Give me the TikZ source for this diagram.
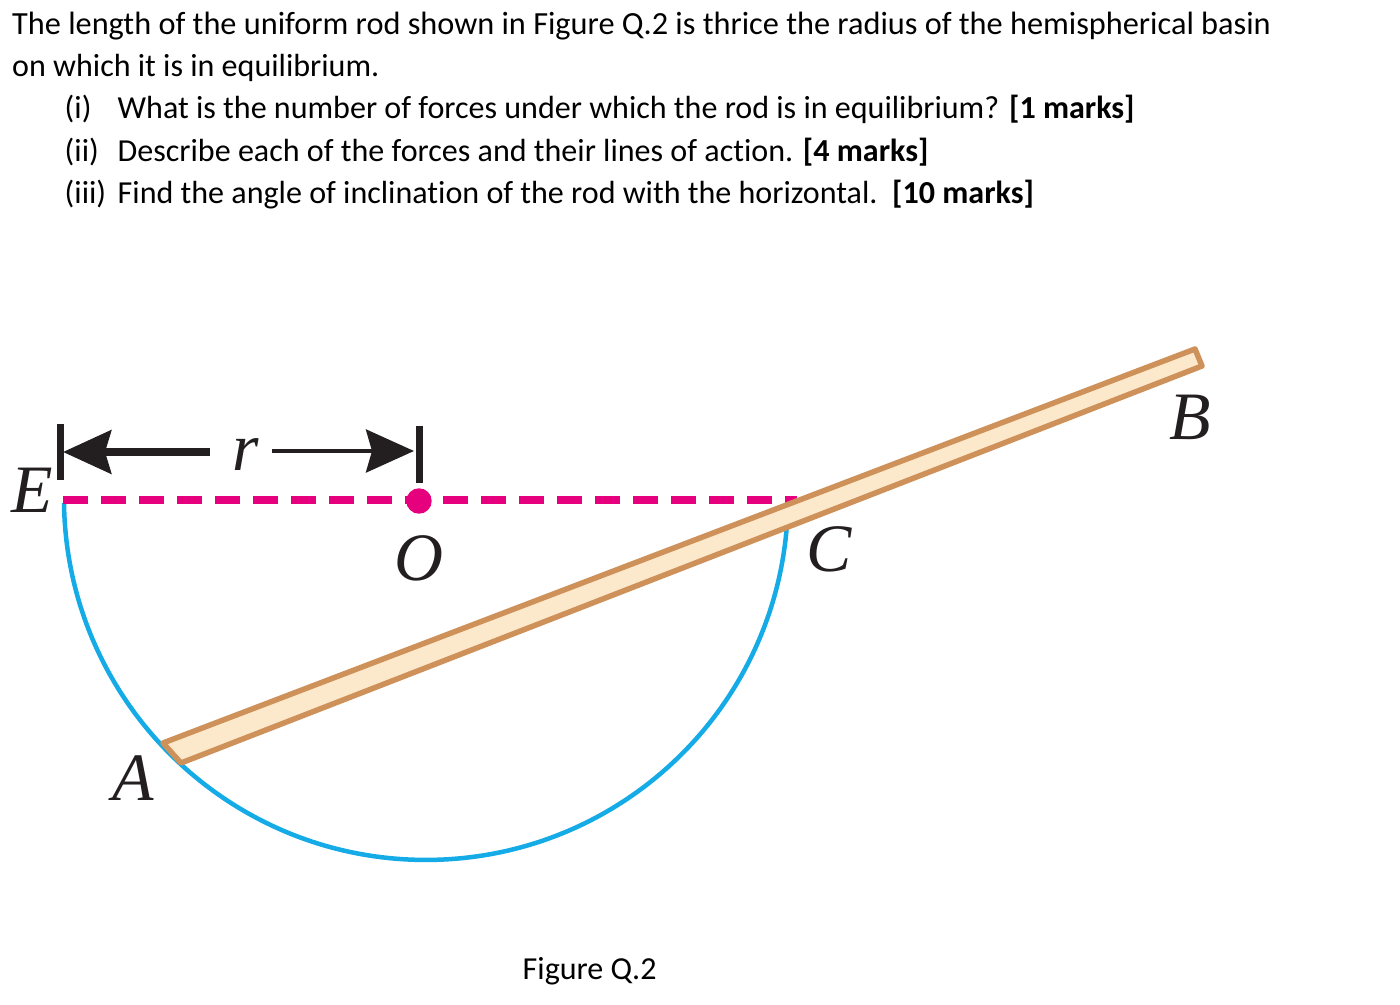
\documentclass[tikz,border=0pt]{standalone}
\usepackage{fontspec}
\setmainfont{Carlito}[Ligatures=NoCommon]
\newfontfamily\figfont{Liberation Serif}
\usetikzlibrary{arrows.meta}
\definecolor{basinblue}{HTML}{14ABE6}
\definecolor{dashpink}{HTML}{E6007E}
\definecolor{rodedge}{HTML}{CD9159}
\definecolor{rodfill}{HTML}{FCE9CC}
\definecolor{labelink}{HTML}{231F20}
\tikzset{
  question/.style={anchor=base west,inner sep=0pt,font=\fontsize{9.12pt}{10pt}\selectfont,text=black},
  figlabel/.style={inner sep=0pt,text=labelink,font=\figfont\itshape\fontsize{19.3pt}{20pt}\selectfont},
  dimtip/.style={-{Stealth[length=0.48cm,width=0.43cm,inset=0.06cm]},labelink},
  dimbar/.style={labelink,line width=0.07cm}
}
\begin{document}
\begin{tikzpicture}
    \useasboundingbox (0,0) rectangle (14,10.04);

    % question text
    \node[question,font=\fontsize{9.19pt}{10pt}\selectfont] (line1) at (0.115,9.69) {The length of the uniform rod shown in Figure Q.2 is thrice the radius of the hemispherical basin};
    \node[question] (line2) at (0.115,9.27) {on which it is in equilibrium.};
    \node[question] (num1) at (0.64,8.85) {(i)};
    \node[question] (item1) at (1.17,8.85) {What is the number of forces under which the rod is in equilibrium? \textbf{[1 marks]}};
    \node[question] (num2) at (0.64,8.42) {(ii)};
    \node[question] (item2) at (1.17,8.42) {Describe each of the forces and their lines of action. \textbf{[4 marks]}};
    \node[question] (num3) at (0.64,8.00) {(iii)};
    \node[question] (item3) at (1.17,8.00) {Find the angle of inclination of the rod with the horizontal.\ \ \textbf{[10 marks]}};

    % basin
    \draw[basinblue,line width=0.045cm] (0.64,5.01) arc (180.8:355.3:3.62);

    % horizontal diameter and centre
    \coordinate (Eend) at (0.63,5.04);
    \coordinate (Cend) at (7.97,5.04);
    \draw[dashpink,line width=0.075cm,dash pattern=on 0.25cm off 0.13cm] (Eend) -- (Cend);
    \filldraw[dashpink] (4.19,5.03) circle (0.12);

    % rod
    \coordinate (A1) at (1.63,2.61);
    \coordinate (A2) at (1.81,2.41);
    \coordinate (B1) at (11.95,6.55);
    \coordinate (B2) at (12.02,6.38);
    \draw[rodedge,fill=rodfill,line width=0.055cm,line join=round] (A1) -- (B1) -- (B2) -- (A2) -- cycle;

    % r dimension
    \coordinate (rleft) at (2.10,5.52);
    \coordinate (rright) at (2.72,5.53);
    \coordinate (Etip) at (0.63,5.52);
    \coordinate (Otip) at (4.14,5.53);
    \draw[dimbar] (0.60,5.80) -- (0.60,5.24);
    \draw[dimbar] (4.19,5.78) -- (4.19,5.21);
    \draw[dimtip,line width=0.08cm] (rleft) -- (Etip);
    \draw[dimtip,line width=0.04cm] (rright) -- (Otip);

    % labels
    \node[figlabel] (r) at (2.455,5.49) {r};
    \node[figlabel] (E) at (0.32,5.14) {E};
    \node[figlabel] (O) at (4.19,4.46) {O};
    \node[figlabel] (C) at (8.29,4.55) {C};
    \node[figlabel] (A) at (1.33,2.26) {A};
    \node[figlabel] (B) at (11.90,5.87) {B};
    \node[question] (caption) at (5.22,0.25) {Figure Q.2};
\end{tikzpicture}
\end{document}
